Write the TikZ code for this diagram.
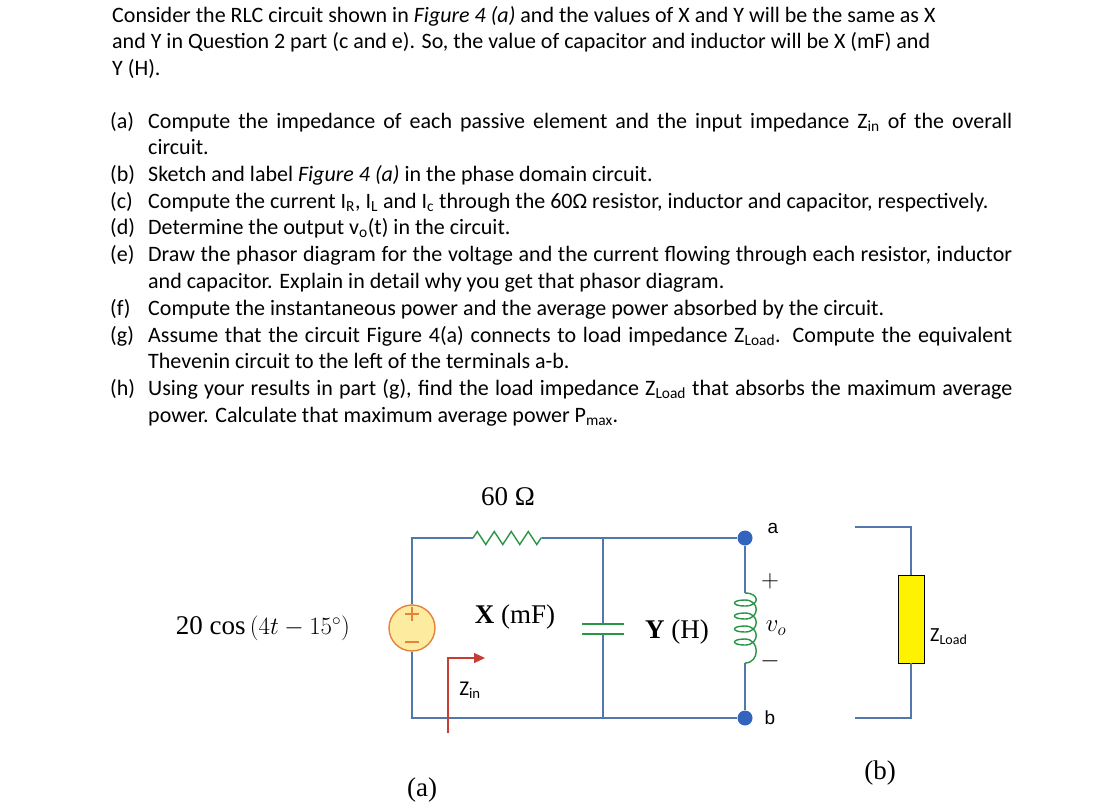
\documentclass[tikz,border=0pt]{standalone}
\usepackage{fontspec}
\setmainfont{Carlito}
\newfontfamily\lmr{Liberation Serif}
\newfontfamily\arial{Liberation Sans}
\usetikzlibrary{arrows.meta,decorations.pathmorphing}
\definecolor{wireblue}{RGB}{80,120,170}
\definecolor{elgreen}{RGB}{40,150,70}
\definecolor{srcfill}{RGB}{253,236,160}
\definecolor{srcedge}{RGB}{230,130,60}
\definecolor{zred}{RGB}{200,60,50}
\definecolor{dotblue}{RGB}{50,100,190}
\newcommand{\jline}[1]{\makebox[864pt][s]{#1}}
\begin{document}
\begin{tikzpicture}[x=1pt,y=-1pt,
  txt/.style={anchor=base west,inner sep=0,font=\fontsize{22}{24}\selectfont},
  lab/.style={anchor=base west,inner sep=0,font=\fontsize{22}{24}\selectfont},
  wire/.style={wireblue,line width=1.4pt},
  ckt/.style={inner sep=0,font=\lmr\fontsize{27}{30}\selectfont},
  term/.style={circle,fill=dotblue,inner sep=0,minimum size=15pt}]
\useasboundingbox (0,0) rectangle (1115,809);
\fill[white] (0,0) rectangle (1115,809);
% text
\node[txt] (t1) at (112,22) {Consider the RLC circuit shown in \emph{Figure 4 (a)} and the values of X and Y will be the same as X};
\node[txt] (t2) at (112,48) {and Y in Question 2 part (c and e). So, the value of capacitor and inductor will be X (mF) and};
\node[txt] (t3) at (112,75) {Y (H).};
\foreach \l/\y in {(a)/128,(b)/181,(c)/208,(d)/234,(e)/261,(f)/315,(g)/342,(h)/395}
  \node[lab] at (110,\y) {\l};
\node[txt] (ia) at (148,128) {\jline{Compute the impedance of each passive element and the input impedance Z\textsubscript{in} of the overall}};
\node[txt] (ia2) at (148,154) {circuit.};
\node[txt] (ib) at (148,181) {Sketch and label \emph{Figure 4 (a)} in the phase domain circuit.};
\node[txt] (ic) at (148,208) {Compute the current I\textsubscript{R}, I\textsubscript{L} and I\textsubscript{c} through the 60Ω resistor, inductor and capacitor, respectively.};
\node[txt] (id) at (148,234) {Determine the output v\textsubscript{o}(t) in the circuit.};
\node[txt] (ie) at (148,261) {\jline{Draw the phasor diagram for the voltage and the current flowing through each resistor, inductor}};
\node[txt] (ie2) at (148,288) {and capacitor. Explain in detail why you get that phasor diagram.};
\node[txt] (if) at (148,315) {Compute the instantaneous power and the average power absorbed by the circuit.};
\node[txt] (ig) at (148,342) {\jline{Assume that the circuit Figure 4(a) connects to load impedance Z\textsubscript{Load}. Compute the equivalent}};
\node[txt] (ig2) at (148,368) {Thevenin circuit to the left of the terminals a-b.};
\node[txt] (ih) at (148,395) {\jline{Using your results in part (g), find the load impedance Z\textsubscript{Load} that absorbs the maximum average}};
\node[txt] (ih2) at (148,422) {power. Calculate that maximum average power P\textsubscript{max}.};
% circuit coordinates
\coordinate (tl) at (412,538);
\coordinate (bl) at (412,718);
\coordinate (r1) at (473,538);
\coordinate (r2) at (542,538);
\coordinate (ct) at (603,538);
\coordinate (cb) at (603,718);
\coordinate (l1) at (745,593);
\coordinate (l2) at (745,663);
\node[circle,draw=srcedge,fill=srcfill,line width=1.4pt,minimum size=46pt,inner sep=0] (src) at (412,628) {};
\draw[srcedge,line width=1.4pt] (405,614) -- (419,614) (412,607) -- (412,621) (405,642) -- (419,642);
\node[term] (a) at (745,538) {};
\node[term] (b) at (745,718) {};
\draw[wire] (src.north) -- (tl) -- (r1);
\draw[elgreen,line width=1.4pt,decorate,decoration={zigzag,segment length=17pt,amplitude=6.5pt}] (r1) -- (r2);
\draw[wire] (r2) -- (a);
\draw[wire] (src.south) -- (bl) -- (b);
\draw[wire] (ct) -- (603,624);
\draw[wire] (603,634) -- (cb);
\draw[elgreen,line width=1.4pt] (582,624) -- (624,624) (582,634) -- (624,634);
\draw[wire] (a) -- (l1);
\draw[wire] (l2) -- (b);
\draw[elgreen,line width=1.4pt] (l1) .. controls (760,593) and (760,606) .. (745,606)
  \foreach \k in {0,1,2}{ .. controls (731,{606+\k*13}) and (731,{600+\k*13}) .. (745,{600+\k*13}) .. controls (760,{600+\k*13}) and (760,{619+\k*13}) .. (745,{619+\k*13}) }
  .. controls (731,645) and (731,639) .. (745,639) .. controls (760,639) and (760,663) .. (l2);
% labels
\node[ckt] (lr) at (508,497) {60 Ω};
\node[ckt] (lc) at (515,617) {\textbf{X} (mF)};
\node[ckt] (ll) at (677,632) {\textbf{Y} (H)};
\node[ckt] (ls) at (263,628) {20 cos$\,(4t-15^\circ)$};
\node[inner sep=0,font=\arial\fontsize{19}{19}\selectfont] (la) at (773,528) {a};
\node[inner sep=0,font=\arial\fontsize{19}{19}\selectfont] (lb) at (770,718) {b};
\node[ckt] (lp) at (770,581) {$+$};
\node[ckt] (lm) at (770,661) {$-$};
\node[ckt] (lv) at (776,628) {$v_o$};
\node[ckt] (fa) at (422,790) {(a)};
\node[ckt] (fb) at (880,773) {(b)};
% Zin
\coordinate (z0) at (448,733);
\coordinate (z1) at (448,658);
\coordinate (z2) at (485,658);
\draw[zred,line width=1.2pt,-{Triangle[length=11pt,width=10pt]}] (z0) -- (z1) -- (z2);
\node[inner sep=0,font=\fontsize{21}{21}\selectfont] (zl) at (470,690) {Z\textsubscript{in}};
% load
\node[draw=black,fill=yellow,minimum width=26pt,minimum height=88pt,inner sep=0] (zload) at (911,619) {};
\draw[wire] (855,527) -- (911,527) -- (zload.north);
\draw[wire] (zload.south) -- (911,718) -- (855,718);
\node[anchor=west,inner sep=0,font=\fontsize{20}{20}\selectfont] (zll) at (930,637) {Z\textsubscript{Load}};
\end{tikzpicture}
\end{document}
